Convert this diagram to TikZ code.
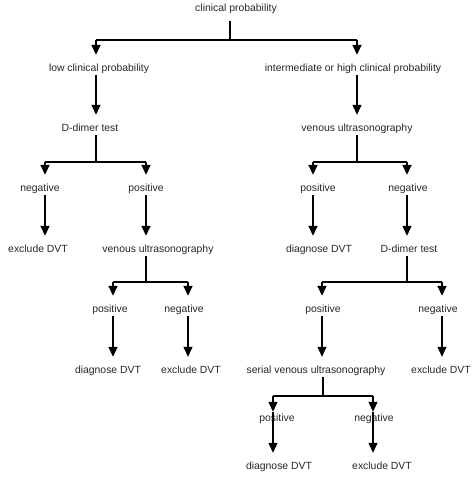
\documentclass[tikz,border=0pt]{standalone}
\usepackage{fontspec}
\setmainfont{Liberation Sans}
\usetikzlibrary{arrows.meta}
\begin{document}
\begin{tikzpicture}[x=1pt,y=-1pt,
  lbl/.style={anchor=base,inner xsep=0pt,inner ysep=0pt,text height=16pt,text depth=4pt,text=black!85,font=\fontsize{10.4}{12}\selectfont},
  lblthru/.style={lbl,text height=9pt},
  thk/.style={line width=1.7pt},
  thn/.style={line width=1.1pt},
  arrk/.style={thk,-{Triangle[width=9pt,length=10pt]}},
  arrn/.style={thn,-{Triangle[width=9pt,length=10pt]}}]
\useasboundingbox (0,0) rectangle (474,488);
% nodes
\node[lbl,text depth=10pt] (cp) at (236,11) {clinical probability};
\node[lbl] (low) at (99,71) {low clinical probability};
\node[lbl] (ihp) at (353,71) {intermediate or high clinical probability};
\node[lbl] (dd1) at (90,131) {D-dimer test};
\node[lbl] (vus1) at (357,131) {venous ultrasonography};
\node[lbl] (neg1) at (40,191) {negative};
\node[lbl] (pos1) at (146,191) {positive};
\node[lbl] (pos2) at (318,191) {positive};
\node[lbl] (neg2) at (408,191) {negative};
\node[lbl] (excl1) at (38,252) {exclude DVT};
\node[lbl] (vus2) at (158,252) {venous ultrasonography};
\node[lbl] (diag1) at (319,252) {diagnose DVT};
\node[lbl] (dd2) at (409,252) {D-dimer test};
\node[lbl] (pos3) at (110,312) {positive};
\node[lbl] (neg3) at (184,312) {negative};
\node[lbl] (pos4) at (323,312) {positive};
\node[lbl] (neg4) at (438,312) {negative};
\node[lbl] (diag2) at (108,373) {diagnose DVT};
\node[lbl] (excl2) at (191,373) {exclude DVT};
\node[lbl] (serial) at (316,373) {serial venous ultrasonography};
\node[lbl] (excl3) at (441,373) {exclude DVT};
\node[lblthru] (pos5) at (277,421) {positive};
\node[lblthru] (neg5) at (374,421) {negative};
\node[lbl] (diag3) at (279,469) {diagnose DVT};
\node[lbl] (excl4) at (382,469) {exclude DVT};
% bar coordinates
\coordinate (s1) at (230,40); \coordinate (a1) at (96,40); \coordinate (b1) at (357,40);
\coordinate (s2) at (96,162); \coordinate (a2) at (45,162); \coordinate (b2) at (146,162);
\coordinate (s3) at (357,162); \coordinate (a3) at (313,162); \coordinate (b3) at (407,162);
\coordinate (s4) at (146,282); \coordinate (a4) at (113,282); \coordinate (b4) at (188,282);
\coordinate (s5) at (407,282); \coordinate (a5) at (322,282); \coordinate (b5) at (442,282);
\coordinate (s6) at (323,396); \coordinate (a6) at (273,396); \coordinate (b6) at (373,396);
% top
\draw[thk] (cp.south -| s1) -- (s1);
\draw[thk] (a1) -- (b1);
\draw[arrk] (a1) -- (a1 |- low.north);
\draw[arrk] (b1) -- (b1 |- ihp.north);
\draw[arrk] (low.south -| a1) -- (a1 |- dd1.north);
\draw[arrn] (ihp.south -| b1) -- (b1 |- vus1.north);
% D-dimer left
\draw[thk] (dd1.south -| s2) -- (s2);
\draw[thk] (a2) -- (b2);
\draw[arrk] (a2) -- (a2 |- neg1.north);
\draw[arrk] (b2) -- (b2 |- pos1.north);
\draw[arrk] (neg1.south -| a2) -- (a2 |- excl1.north);
\draw[arrk] (pos1.south -| b2) -- (b2 |- vus2.north);
% venous right
\draw[thn] (vus1.south -| s3) -- (s3);
\draw[thk] (a3) -- (b3);
\draw[arrk] (a3) -- (a3 |- pos2.north);
\draw[arrk] (b3) -- (b3 |- neg2.north);
\draw[arrk] (pos2.south -| a3) -- (a3 |- diag1.north);
\draw[arrn] (neg2.south -| b3) -- (b3 |- dd2.north);
% venous left lower
\draw[thk] (vus2.south -| s4) -- (s4);
\draw[thk] (a4) -- (b4);
\draw[arrk] (a4) -- (a4 |- pos3.north);
\draw[arrk] (b4) -- (b4 |- neg3.north);
\draw[arrk] (pos3.south -| a4) -- (a4 |- diag2.north);
\draw[arrn] (neg3.south -| b4) -- (b4 |- excl2.north);
% D-dimer right lower
\draw[thn] (dd2.south -| s5) -- (s5);
\draw[thk] (a5) -- (b5);
\draw[arrk] (a5) -- (a5 |- pos4.north);
\draw[arrk] (b5) -- (b5 |- neg4.north);
\draw[arrn] (pos4.south -| a5) -- (a5 |- serial.north);
\draw[arrn] (neg4.south -| b5) -- (b5 |- excl3.north);
% serial
\draw[thn] (serial.south -| s6) -- (s6);
\draw[thn] (a6) -- (b6);
\draw[arrn] (a6) -- (a6 |- pos5.north);
\draw[arrn] (b6) -- (b6 |- neg5.north);
\draw[arrn] (pos5.north -| a6) -- (a6 |- diag3.north);
\draw[arrn] (neg5.north -| b6) -- (b6 |- excl4.north);
\end{tikzpicture}
\end{document}
